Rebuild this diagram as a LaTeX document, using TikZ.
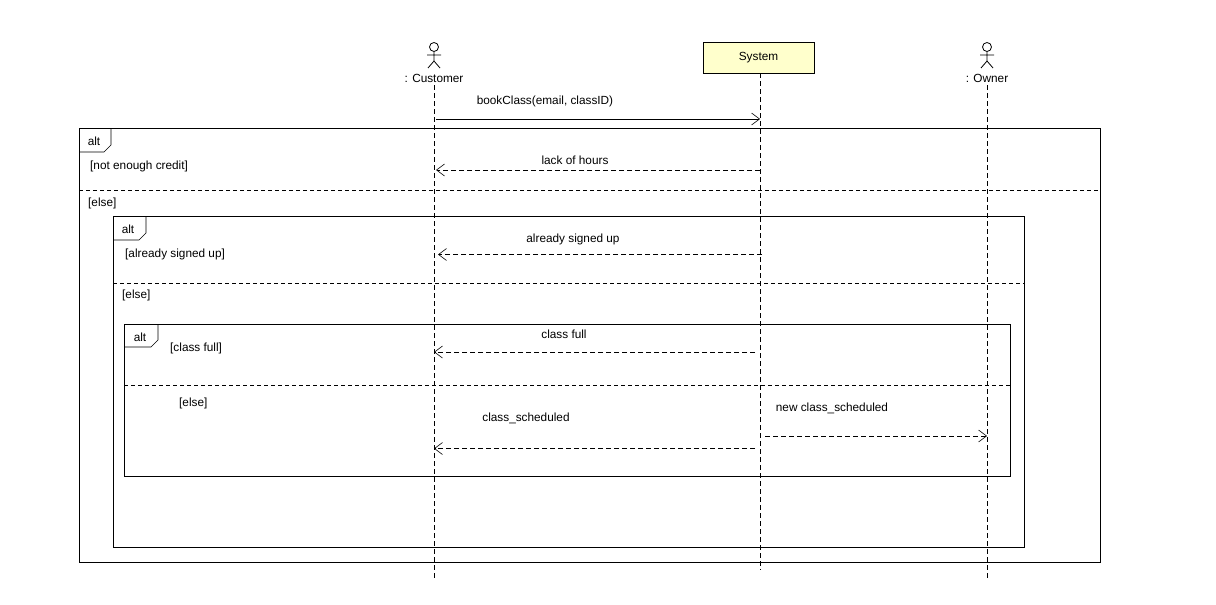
\documentclass[tikz,border=0pt]{standalone}
\usepackage{fontspec}
\setmainfont{Liberation Sans}
\usetikzlibrary{arrows.meta}
\begin{document}
\begin{tikzpicture}[x=1pt,y=-1pt,
  txt/.style={font=\fontsize{11.8}{13}\selectfont,inner sep=0pt},
  life/.style={dashed,dash pattern=on 5pt off 3pt,line width=0.6pt},
  msg/.style={-{Straight Barb[length=8pt,width=12pt]},line width=0.6pt},
  reply/.style={msg,dashed,dash pattern=on 5pt off 3pt},
  frame/.style={draw,line width=0.6pt},
  sep/.style={dashed,dash pattern=on 4pt off 3pt,line width=0.6pt}]
\useasboundingbox (0,0) rectangle (1216,605);
% actors
\foreach \n/\x/\l in {cust/434/{: Customer},own/987/{: Owner}}{
  \draw[line width=0.8pt] (\x,47) circle (4.5);
  \draw[line width=0.8pt] (\x,51.5) -- (\x,61) (\x-7,55) -- (\x+7,55) (\x-6,68) -- (\x,61) -- (\x+6,68);
  \node[txt] (\n) at (\x,78) {\l};
}
\node[frame,fill={rgb,255:red,255;green,255;blue,204},minimum width=111pt,minimum height=31pt,txt] (sys) at (758.5,57.5) {System};
\coordinate (custE) at (434,578);
\coordinate (sysE) at (760,570);
\coordinate (ownE) at (987,578);
\draw[life] (434,85) -- (custE);
\draw[life] (760,73) -- (sysE);
\draw[life] (987,85) -- (ownE);
% frames
\draw[frame] (79,128) rectangle (1100,562);
\draw[frame] (79,152) -- (104,152) -- (111,145) -- (111,128);
\node[txt] (t1) at (94,141) {alt};
\node[txt,anchor=west] (g1) at (90,166) {[not enough credit]};
\draw[sep] (79,190) -- (1100,190);
\node[txt,anchor=west] (e1) at (88,203) {[else]};

\draw[frame] (113,216) rectangle (1024,547);
\draw[frame] (113,240) -- (139,240) -- (146,233) -- (146,216);
\node[txt] (t2) at (128,229) {alt};
\node[txt,anchor=west] (g2) at (125,254) {[already signed up]};
\draw[sep] (113,283) -- (1024,283);
\node[txt,anchor=west] (e2) at (122,295) {[else]};

\draw[frame] (124,324) rectangle (1010,476);
\draw[frame] (124,347) -- (151,347) -- (158,340) -- (158,324);
\node[txt] (t3) at (140,337) {alt};
\node[txt,anchor=west] (g3) at (170,348) {[class full]};
\draw[sep] (124,385) -- (1010,385);
\node[txt,anchor=west] (e3) at (179,403) {[else]};
% messages
\coordinate (a1) at (436,119); \coordinate (b1) at (760,119);
\draw[msg] (a1) -- (b1);
\node[txt] (m1) at (545,101) {bookClass(email, classID)};
\coordinate (a2) at (760,170); \coordinate (b2) at (436,170);
\draw[reply] (a2) -- (b2);
\node[txt] (m2) at (575,160) {lack of hours};
\coordinate (a3) at (762,254.5); \coordinate (b3) at (438,254.5);
\draw[reply] (a3) -- (b3);
\node[txt] (m3) at (573,239) {already signed up};
\coordinate (a4) at (755,352); \coordinate (b4) at (434,352);
\draw[reply] (a4) -- (b4);
\node[txt] (m4) at (564,334) {class full};
\coordinate (a5) at (765,436); \coordinate (b5) at (987,436);
\draw[reply] (a5) -- (b5);
\node[txt] (m5) at (832,408) {new class\_scheduled};
\coordinate (a6) at (755,448.5); \coordinate (b6) at (434,448.5);
\draw[reply] (a6) -- (b6);
\node[txt] (m6) at (526,418) {class\_scheduled};
\end{tikzpicture}
\end{document}
